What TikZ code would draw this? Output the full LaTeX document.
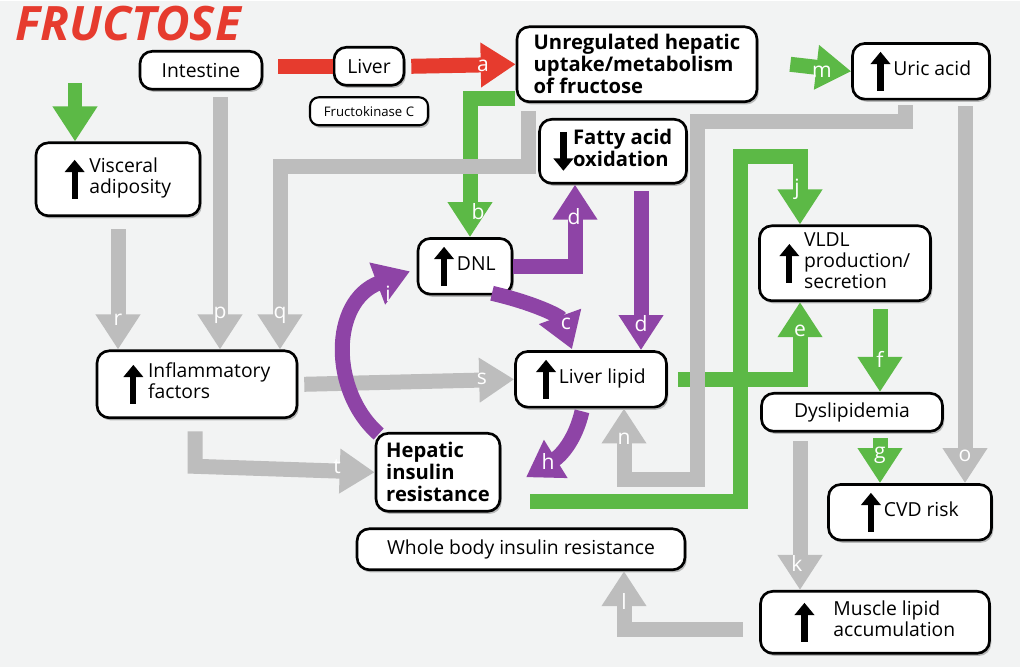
\documentclass[tikz,border=0pt]{standalone}
\usepackage{fontspec}
\setmainfont{Open Sans}
\usetikzlibrary{arrows.meta,shadows}
\definecolor{bgc}{HTML}{F2F3F3}
\definecolor{fgreen}{HTML}{5CB946}
\definecolor{fred}{HTML}{E63B2E}
\definecolor{fpurple}{HTML}{8E44A6}
\definecolor{fgrey}{HTML}{BDBDBD}
\newcommand{\upicon}{\tikz[x=1cm,y=1cm,baseline=-0.5ex]\draw[line width=3.5pt,-{Triangle[width=11pt,length=7pt]}] (0,-0.4) -- (0,0.38);}
\newcommand{\downicon}{\tikz[x=1cm,y=1cm,baseline=-0.5ex]\draw[line width=3.5pt,-{Triangle[width=11pt,length=7pt]}] (0,0.38) -- (0,-0.4);}
\tikzset{
  box/.style={draw, line width=1.5pt, rounded corners=7pt, fill=white, drop shadow={shadow xshift=1pt, shadow yshift=-1.5pt, opacity=0.5}, font=\fontsize{11}{12}\selectfont, align=left, inner sep=3pt},
  fat/.style={line width=0.3cm, -{Triangle[width=0.85cm,length=0.7cm]}},
  bar/.style={line width=0.3cm},
  lab/.style={white, font=\fontsize{12}{12}\selectfont},
}
\begin{document}
\begin{tikzpicture}[x=0.02cm,y=-0.02cm]
  \fill[bgc] (0,0) rectangle (1020,666);

  %boxes
  \node[text=fred, font=\fontsize{27}{27}\selectfont\bfseries\itshape] (fru) at (128,22) {FRUCTOSE};
  \node[box, minimum width=2.44cm, minimum height=0.76cm, align=center] (intestine) at (201,69) {Intestine};
  \node[box, minimum width=1.4cm, minimum height=0.76cm, align=center] (liver) at (369,65) {Liver};
  \node[box, minimum width=2.36cm, minimum height=0.56cm, align=center, font=\fontsize{7.5}{8}\selectfont, rounded corners=5pt, line width=1.2pt] (fk) at (369,110) {Fructokinase C};
  \node[box, minimum width=4.8cm, minimum height=1.5cm, font=\fontsize{11.5}{12.5}\selectfont\bfseries] (unreg) at (637,63) {Unregulated hepatic\\uptake/metabolism\\of fructose};
  \node[box, minimum width=2.74cm, minimum height=1.02cm] (uric) at (921,70) {\upicon\,Uric acid};
  \node[box, minimum width=3.28cm, minimum height=1.46cm] (visc) at (118,178) {\upicon\ \begin{tabular}[c]{@{}l@{}}Visceral\\adiposity\end{tabular}};
  \node[box, minimum width=2.94cm, minimum height=1.28cm, font=\fontsize{11.5}{12.5}\selectfont\bfseries] (fao) at (613,150) {\downicon\begin{tabular}[c]{@{}l@{}}Fatty acid\\oxidation\end{tabular}};
  \node[box, minimum width=1.88cm, minimum height=1.0cm] (dnl) at (465,265) {\upicon\,DNL};
  \node[box, minimum width=3.42cm, minimum height=1.5cm] (vldl) at (845,262) {\upicon\ \begin{tabular}[c]{@{}l@{}}VLDL\\production/\\secretion\end{tabular}};
  \node[box, minimum width=4.0cm, minimum height=1.34cm] (infl) at (197,383) {\upicon\ \begin{tabular}[c]{@{}l@{}}Inflammatory\\factors\end{tabular}};
  \node[box, minimum width=3.02cm, minimum height=0.98cm] (llip) at (591,378) {\upicon\,Liver lipid};
  \node[box, minimum width=3.62cm, minimum height=0.76cm, align=center] (dysl) at (852,411) {Dyslipidemia};
  \node[box, minimum width=2.48cm, minimum height=1.56cm, font=\fontsize{11.5}{12.5}\selectfont\bfseries] (hir) at (438,471) {Hepatic\\insulin\\resistance};
  \node[box, minimum width=3.26cm, minimum height=1.02cm] (cvd) at (910,511) {\upicon\,CVD risk};
  \node[box, minimum width=6.56cm, minimum height=0.82cm, align=center] (wbir) at (521,548) {Whole body insulin resistance};
  \node[box, minimum width=4.58cm, minimum height=1.24cm] (musc) at (875,621) {\upicon\quad\begin{tabular}[c]{@{}l@{}}Muscle lipid\\accumulation\end{tabular}};

  %red path
  \draw[bar, fred] (278,65) -- (liver.west);
  \draw[fat, fred] (liver.east) ++(6,0) -- (unreg.west);
  \node[lab] at (483,65) {a};

  %green arrows
  \draw[fat, fgreen] (75,82) -- (visc.north -| 75,0);
  \draw[fat, fgreen] (unreg.east) ++(32,0) -- (uric.west);
  \node[lab] at (822,70) {m};
  \draw[fat, fgreen] (515,97) -- (470,97) -- (dnl.north -| 470,0);
  \node[lab] at (478,210) {b};
  \draw[fat, fgreen] (530,500) -- (740,500) -- (740,155) -- (800,155) -- (vldl.north -| 800,0);
  \node[lab] at (797,188) {j};
  \draw[fat, fgreen] (llip.east) ++(10,0) -- (800,378) -- (vldl.south -| 800,0);
  \node[lab] at (800,330) {e};
  \draw[fat, fgreen] (880,308) -- (dysl.north -| 880,0);
  \node[lab] at (880,358) {f};
  \draw[fat, fgreen] (880,437) -- (cvd.north -| 880,0);
  \node[lab] at (880,454) {g};

  %grey arrows
  \draw[fat, fgrey] (118,228) -- (infl.north -| 118,0);
  \node[lab] at (118,318) {r};
  \draw[fat, fgrey] (220,96) -- (infl.north -| 220,0);
  \node[lab] at (220,314) {p};
  \draw[fat, fgrey] (528,110) -- (528,165) -- (280,165) -- (infl.north -| 280,0);
  \node[lab] at (280,314) {q};
  \draw[fat, fgrey] (infl.east) ++(6,0) -- (llip.west);
  \node[lab] at (482,378) {s};
  \draw[fat, fgrey] (195,430) -- (195,465) -- (hir.west);
  \node[lab] at (337,465) {t};
  \draw[fat, fgrey] (965,105) -- (cvd.north -| 965,0);
  \node[lab] at (965,455) {o};
  \draw[fat, fgrey] (905,104) -- (905,120) -- (697,120) -- (697,478) -- (624,478) -- (llip.south -| 624,0);
  \node[lab] at (624,437) {n};
  \draw[fat, fgrey] (800,440) -- (musc.north -| 800,0);
  \node[lab] at (797,562) {k};
  \draw[fat, fgrey] (musc.west) ++(-16,7) -- (624,628) -- (wbir.south -| 624,0);
  \node[lab] at (624,600) {l};

  %purple arrows
  \draw[fat, fpurple] (dnl.east) -- (575,265) -- (fao.south -| 575,0);
  \node[lab] at (574,215) {d};
  \draw[fat, fpurple] (641,190) -- (llip.north -| 641,0);
  \node[lab] at (641,322) {d};
  \draw[fat, fpurple] (492,292) .. controls (535,302) and (560,315) .. (572,348);
  \node[lab] at (566,323) {c};
  \draw[fat, fpurple] (hir.north west) ++(4,2) .. controls (330,390) and (330,300) .. (410,270);
  \node[lab] at (388,292) {i};
  \draw[fat, fpurple] (582,410) .. controls (575,440) and (560,455) .. (526,476);
  \node[lab] at (548,460) {h};
\end{tikzpicture}
\end{document}
